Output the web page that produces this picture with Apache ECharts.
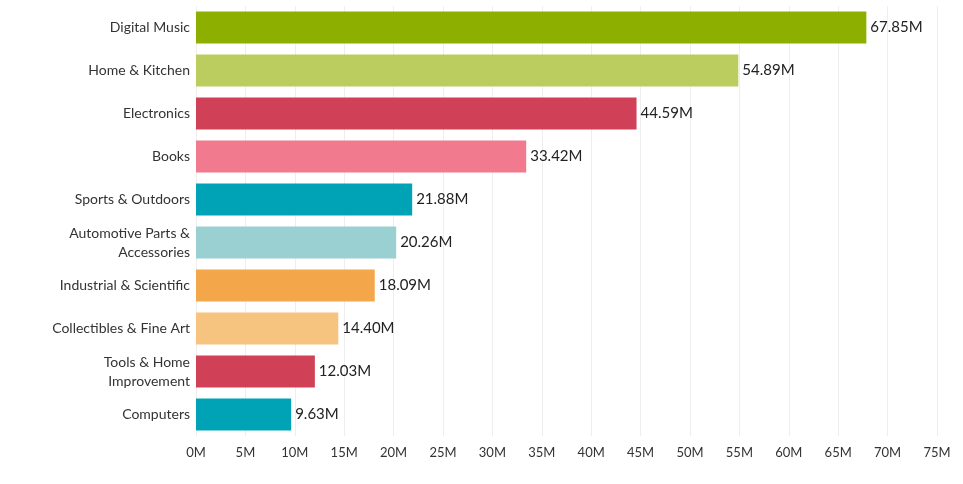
<!DOCTYPE html>
<html><head><meta charset="utf-8">
<script src="https://cdn.jsdelivr.net/npm/echarts@6/dist/echarts.min.js"></script>
<style>html,body{margin:0;padding:0;background:#fff}#c{width:963px;height:484px}</style>
</head><body><div id="c"></div>
<script>
const categories = ["Digital Music","Home & Kitchen","Electronics","Books","Sports & Outdoors","Automotive Parts &\nAccessories","Industrial & Scientific","Collectibles & Fine Art","Tools & Home\nImprovement","Computers"];
const values = [67.85,54.89,44.59,33.42,21.88,20.26,18.09,14.40,12.03,9.63];
const colors = ["#8db000","#bccd5f","#d04057","#f27a8e","#00a3b6","#9bd0d3","#f4a64a","#f7c480","#d04057","#00a3b6"];
const chart = echarts.init(document.getElementById('c'));
chart.setOption({
  animation:false,
  grid:{left:196,right:26,top:6,bottom:48,containLabel:false},
  xAxis:{type:'value',min:0,max:75,interval:5,
    axisLabel:{formatter:v=>v+'M',color:'#333',fontSize:13,fontFamily:'Lato, sans-serif',margin:10},
    splitLine:{lineStyle:{color:'#eeeeee'}},axisLine:{show:false},axisTick:{show:false}},
  yAxis:{type:'category',inverse:true,data:categories,
    axisLabel:{color:'#333',fontSize:14,fontFamily:'Lato, sans-serif',margin:6,lineHeight:19},
    axisLine:{show:false},axisTick:{show:false}},
  series:[{type:'bar',barWidth:32,
    data:values.map((v,i)=>({value:v,itemStyle:{color:colors[i]}})),
    label:{show:true,position:'right',distance:4,formatter:p=>p.value.toFixed(2)+'M',color:'#222',fontSize:15,fontFamily:'Lato, sans-serif'}}]
});
</script></body></html>
